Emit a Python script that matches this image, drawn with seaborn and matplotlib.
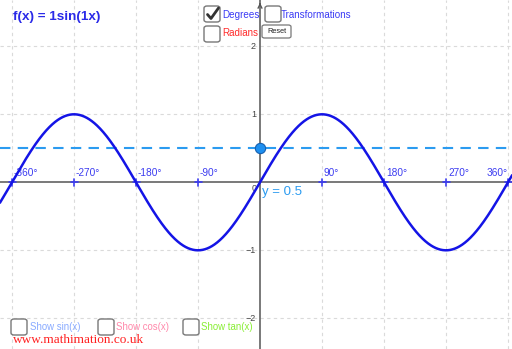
import numpy as np
import pandas as pd
import matplotlib
matplotlib.use("Agg")
import matplotlib.pyplot as plt
import seaborn as sns
from matplotlib.patches import FancyBboxPatch
from matplotlib.lines import Line2D

# ---- data ----
amplitude = 1
frequency = 1
x_ticks_deg = [-360, -270, -180, -90, 90, 180, 270, 360]
x_tick_labels = ["-360°", "-270°", "-180°", "-90°", "90°", "180°", "270°", "360°"]
y_ticks = [-2, -1, 1, 2]
y_tick_labels = ["\u22122", "\u22121", "1", "2"]
line_y = 0.5
x_deg = np.linspace(-380, 370, 1501)
title_text = "f(x) = 1sin(1x)"

df = pd.DataFrame({"x": x_deg,
                   "y": amplitude * np.sin(np.radians(frequency * x_deg))})

sns.set_theme(style="white")
plt.rcParams['font.family'] = ['Liberation Sans', 'DejaVu Sans']

W, H = 512, 349
fig = plt.figure(figsize=(W / 100, H / 100), dpi=100)
ax = fig.add_axes([0, 0, 1, 1])

# pixel mapping: x=0deg at px 260, 90deg = 62px ; y=0 at px 182.3, 1 unit = 68px
x0px, xs = 260.0, 62.0 / 90.0
y0px, ys = 182.3, 68.0
ax.set_xlim((0 - x0px) / xs, (W - x0px) / xs)
ax.set_ylim((y0px - H) / ys, (y0px - 0) / ys)
for s in ax.spines.values():
    s.set_visible(False)
ax.set_xticks([])
ax.set_yticks([])

grid_c = "#dadada"
for xv in x_ticks_deg:
    ax.axvline(xv, color=grid_c, lw=0.8, ls=(0, (3, 3)), zorder=0)
for yv in y_ticks:
    ax.axhline(yv, color=grid_c, lw=0.8, ls=(0, (3, 3)), zorder=0)

# axes
axis_c = "#555555"
ax.axhline(0, color=axis_c, lw=1.1, zorder=1)
ax.axvline(0, color=axis_c, lw=1.1, zorder=1)
ymax = ax.get_ylim()[1]
ax.annotate("", xy=(0, ymax), xytext=(0, ymax - 7 / ys),
            arrowprops=dict(arrowstyle="->", color=axis_c, lw=1.0,
                            mutation_scale=7), zorder=1)

tick_c = "#3c3cf0"
for xv, lab in zip(x_ticks_deg, x_tick_labels):
    ax.plot([xv - 3.5 / xs, xv + 3.5 / xs], [0, 0], color=tick_c, lw=1.2, zorder=2)
    ax.plot([xv, xv], [-3.5 / ys, 3.5 / ys], color=tick_c, lw=1.2, zorder=2)
    if xv == max(x_ticks_deg):
        ax.text(xv, 4 / ys, lab, color=tick_c, fontsize=7.3,
                ha="right", va="bottom", zorder=3)
    else:
        ax.text(xv + 2 / xs, 4 / ys, lab, color=tick_c, fontsize=7.3,
                ha="left", va="bottom", zorder=3)
for yv, lab in zip(y_ticks, y_tick_labels):
    ax.text(-4 / xs, yv, lab, color="#444444", fontsize=6.5,
            ha="right", va="center", zorder=3)
ax.text(-3 / xs, -2 / ys, "0", color="#444444", fontsize=6.5,
        ha="right", va="top", zorder=3)

# dashed line and point
line_c = "#2b9bf0"
ax.axhline(line_y, color=line_c, lw=1.5, ls=(0, (5, 3.5)), zorder=3)

sns.lineplot(data=df, x="x", y="y", ax=ax, color="#1414e6", lw=1.8,
             zorder=4, legend=False)
ax.set_xlabel("")
ax.set_ylabel("")

sns.scatterplot(x=[0], y=[line_y], ax=ax, s=55, color="#1e8ff0",
                edgecolor="#1560b0", linewidth=0.8, zorder=6, legend=False)
ax.text(2 / xs, -4 / ys, f"y = {line_y}", color=line_c, fontsize=9.5,
        ha="left", va="top", zorder=5)

# ---- UI overlay in pixel coords ----
def fx(x):
    return x / W

def fy(y):
    return 1 - y / H

fig.text(fx(13), fy(17), title_text, color="#2a2ae8", fontsize=9.7,
         fontweight="bold", ha="left", va="center")

def checkbox(x, y, size=16, checked=False):
    p = FancyBboxPatch((fx(x), fy(y + size)), size / W, size / H,
                       boxstyle="round,pad=0,rounding_size=0.006",
                       transform=fig.transFigure, facecolor="white",
                       edgecolor="#777777", lw=1.0, zorder=10)
    fig.patches.append(p)
    if checked:
        xs_ = [x + 3.5, x + 7, x + 14.5]
        ys_ = [y + 8.5, y + 12.5, y + 2]
        fig.lines.append(Line2D([fx(v) for v in xs_], [fy(v) for v in ys_],
                                transform=fig.transFigure, color="#333333",
                                lw=2.0, solid_capstyle="round",
                                solid_joinstyle="round", zorder=11))

checkbox(204, 6, checked=True)
fig.text(fx(222), fy(14.5), "Degrees", color="#3b3bf5", fontsize=7.1, ha="left", va="center")
checkbox(265, 6)
fig.text(fx(281), fy(14.5), "Transformations", color="#3b3bf5", fontsize=7.1, ha="left", va="center")
checkbox(204, 26)
fig.text(fx(222), fy(33.5), "Radians", color="#ff2a2a", fontsize=7.1, ha="left", va="center")
rb = FancyBboxPatch((fx(262), fy(38)), 29 / W, 13 / H,
                    boxstyle="round,pad=0,rounding_size=0.005",
                    transform=fig.transFigure, facecolor="white",
                    edgecolor="#777777", lw=0.9, zorder=10)
fig.patches.append(rb)
fig.text(fx(276.5), fy(31.5), "Reset", color="#222222", fontsize=5.3,
         ha="center", va="center", zorder=11)

checkbox(11, 319)
fig.text(fx(30), fy(327), "Show sin(x)", color="#88aaff", fontsize=6.9, ha="left", va="center")
checkbox(98, 319)
fig.text(fx(116), fy(327), "Show cos(x)", color="#ff88aa", fontsize=6.9, ha="left", va="center")
checkbox(183, 319)
fig.text(fx(201), fy(327), "Show tan(x)", color="#88ee33", fontsize=6.9, ha="left", va="center")

fig.text(fx(13), fy(340), "www.mathimation.co.uk", color="#ff2020",
         fontsize=9.5, family=["Liberation Serif", "DejaVu Serif"],
         ha="left", va="center")

fig.savefig("out.png", dpi=100)
